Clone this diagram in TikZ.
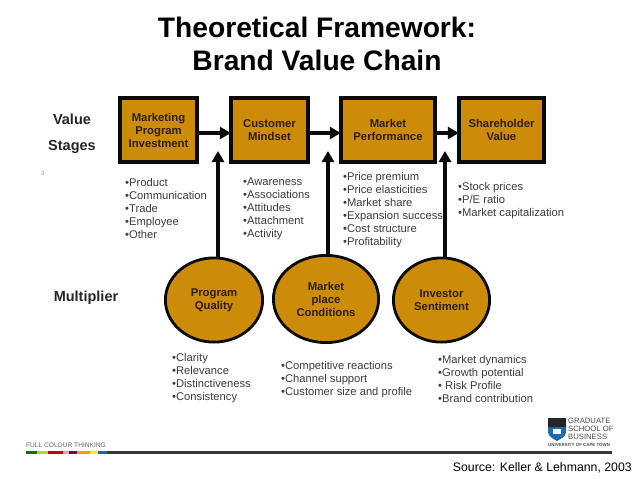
\documentclass[tikz,border=0pt]{standalone}
\usepackage{fontspec}
\setmainfont{Liberation Sans}
\usetikzlibrary{shapes.geometric, arrows.meta}
\definecolor{myochre}{RGB}{205,140,8}
\definecolor{mydark}{RGB}{10,10,10}
\definecolor{myink}{RGB}{45,30,10}
\definecolor{mytext}{RGB}{60,60,60}
\definecolor{myrule}{RGB}{55,55,60}
\definecolor{myshield}{RGB}{35,105,170}
\tikzset{
  stage/.style={rectangle, draw=mydark, fill=myochre, line width=3.6pt,
    minimum height=64.4pt, outer sep=0pt, align=center, text=myink,
    font=\fontsize{11.3}{13}\selectfont\bfseries},
  multiplier/.style={ellipse, draw=mydark, fill=myochre, line width=2.8pt,
    inner sep=0pt, outer sep=0pt, align=center, text=myink,
    font=\fontsize{11.3}{13}\selectfont\bfseries},
  bullets/.style={anchor=north west, inner sep=0pt, align=left, text=mytext,
    font=\fontsize{11.2}{13}\selectfont},
  rowlabel/.style={align=center, text=black!85,
    font=\fontsize{14.5}{26}\selectfont\bfseries},
  arrow/.style={-{Triangle[length=11pt,width=12pt]}, line width=3.3pt, color=mydark},
  logotext/.style={anchor=west, inner sep=0pt, text=black!70,
    font=\fontsize{7.7}{7.7}\selectfont}
}
\begin{document}
\begin{tikzpicture}[x=1pt, y=-1pt]
  \useasboundingbox (0,0) rectangle (638,479);

  % Title
  \node[align=center, font=\fontsize{28.2}{33}\selectfont\bfseries] (title) at (317,44) {Theoretical Framework:\\Brand Value Chain};

  % Row labels
  \node[rowlabel] (value) at (72,134) {Value\\Stages};
  \node[rowlabel] (mult) at (86,298) {Multiplier};
  \node[inner sep=0pt, text=black!45, font=\fontsize{5.5}{5.5}\selectfont] (mark) at (43,174) {3};

  % Value stages
  \node[stage, minimum width=77.4pt] (invest) at (158.5,130) {Marketing\\Program\\Investment};
  \node[stage, minimum width=77.4pt] (mindset) at (269.5,130) {Customer\\Mindset};
  \node[stage, minimum width=94.4pt] (perform) at (388,130) {Market\\Performance};
  \node[stage, minimum width=85.4pt] (holder) at (501.5,130) {Shareholder\\Value};

  % Multipliers
  \node[multiplier, minimum width=97.2pt, minimum height=84.2pt] (quality) at (214,300) {Program\\Quality};
  \node[multiplier, minimum width=105.2pt, minimum height=87.2pt] (place) at (326,299) {Market\\place\\Conditions};
  \node[multiplier, minimum width=96.2pt, minimum height=84.2pt] (sentiment) at (441.5,300) {Investor\\Sentiment};

  % Arrow ends
  \coordinate (flow) at (0,133);
  \coordinate (tip1) at (218,151);
  \coordinate (tip2) at (328,151);
  \coordinate (tip3) at (445,151);

  % Arrows along the chain
  \draw[arrow] (invest.east |- flow) -- (mindset.west |- flow);
  \draw[arrow] (mindset.east |- flow) -- (perform.west |- flow);
  \draw[arrow] (perform.east |- flow) -- (holder.west |- flow);

  % Arrows up from the multipliers
  \draw[arrow] (tip1 |- quality.north) -- (tip1);
  \draw[arrow] (tip2 |- place.north) -- (tip2);
  \draw[arrow] (tip3 |- sentiment.north) -- (tip3);

  % Lists under the stages
  \node[bullets] (list1) at (125,178) {•Product\\•Communication\\•Trade\\•Employee\\•Other};
  \node[bullets] (list2) at (243,178) {•Awareness\\•Associations\\•Attitudes\\•Attachment\\•Activity};
  \node[bullets] (list3) at (343,172) {•Price premium\\•Price elasticities\\•Market share\\•Expansion success\\•Cost structure\\•Profitability};
  \node[bullets] (list4) at (458,182) {•Stock prices\\•P/E ratio\\•Market capitalization};

  % Lists under the multipliers
  \node[bullets] (list5) at (172,353) {•Clarity\\•Relevance\\•Distinctiveness\\•Consistency};
  \node[bullets] (list6) at (281,361) {•Competitive reactions\\•Channel support\\•Customer size and profile};
  \node[bullets] (list7) at (438,355) {•Market dynamics\\•Growth potential\\• Risk Profile\\•Brand contribution};

  % Footer strip
  \node[anchor=west, inner sep=0pt, text=black!60, font=\fontsize{6.6}{7}\selectfont] (thinking) at (26,445.5) {FULL COLOUR THINKING};
  \fill[myrule] (26,451.3) rectangle (612,454.3);
  \fill[green!45!black] (26,451.3) rectangle (37,454.3);
  \fill[yellow!70!green] (37,451.3) rectangle (48,454.3);
  \fill[red!75!black] (48,451.3) rectangle (63,454.3);
  \fill[red!40!white] (63,451.3) rectangle (69,454.3);
  \fill[violet!80!black] (69,451.3) rectangle (77,454.3);
  \fill[orange!80!yellow] (77,451.3) rectangle (90,454.3);
  \fill[yellow] (90,451.3) rectangle (98,454.3);
  \fill[myshield] (98,451.3) rectangle (107,454.3);

  % Logo
  \fill[myshield] (548,418) -- (566,418) -- (566,432) .. controls (566,437) and (560,439) .. (557,441) .. controls (554,439) and (548,437) .. (548,432) -- cycle;
  \fill[black!85] (548,418) rectangle (566,427);
  \fill[white] (553,429) rectangle (561,434);
  \node[logotext] (grad) at (568,421) {GRADUATE};
  \node[logotext] (school) at (568,429) {SCHOOL OF};
  \node[logotext] (business) at (568,437) {BUSINESS};
  \node[anchor=west, inner sep=0pt, text=black!70, font=\fontsize{4.4}{4.4}\selectfont\bfseries] (cape) at (548,445) {UNIVERSITY OF CAPE TOWN};

  % Source
  \node[anchor=east, inner sep=0pt, font=\fontsize{12.3}{14}\selectfont] (source) at (632,468) {Source: Keller \& Lehmann, 2003};
\end{tikzpicture}
\end{document}
